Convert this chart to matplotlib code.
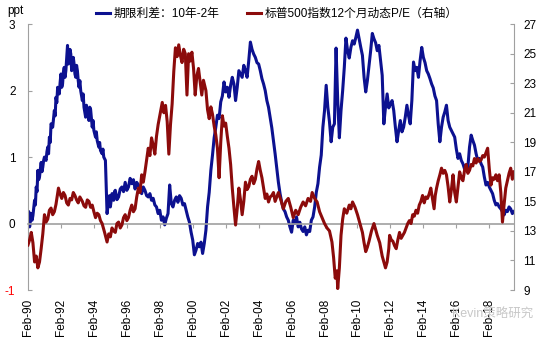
import matplotlib
matplotlib.use('Agg')
import matplotlib.pyplot as plt

plt.rcParams['font.family'] = ['Liberation Sans', 'Noto Sans CJK SC', 'DejaVu Sans']

# 10y-2y term spread, ppt (decimal year, value)
spread_pts = [
    (1990.1, 0.10), (1990.15, 0.18), (1990.2, -0.05), (1990.3, 0.15), (1990.35, 0.05),
    (1990.4, 0.12), (1990.5, 0.35), (1990.55, 0.28), (1990.6, 0.55), (1990.65, 0.48),
    (1990.7, 0.80), (1990.75, 0.66), (1990.8, 0.70), (1990.85, 0.82), (1990.9, 0.92),
    (1990.95, 0.78), (1991.0, 0.85), (1991.05, 0.95), (1991.1, 1.00), (1991.2, 0.95),
    (1991.25, 1.08), (1991.3, 1.15), (1991.35, 1.05), (1991.4, 1.30), (1991.45, 1.22),
    (1991.5, 1.50), (1991.6, 1.45), (1991.65, 1.58), (1991.7, 1.70), (1991.75, 1.62),
    (1991.8, 1.90), (1991.85, 1.82), (1991.9, 2.05), (1992.0, 1.95), (1992.05, 2.12),
    (1992.1, 2.25), (1992.15, 2.05), (1992.2, 2.10), (1992.25, 2.28), (1992.3, 2.35),
    (1992.35, 2.20), (1992.4, 2.30), (1992.45, 2.50), (1992.5, 2.68), (1992.55, 2.40),
    (1992.6, 2.45), (1992.65, 2.62), (1992.7, 2.55), (1992.75, 2.30), (1992.8, 2.35),
    (1992.85, 2.50), (1992.9, 2.40), (1992.95, 2.25), (1993.0, 2.20), (1993.05, 2.38),
    (1993.1, 2.30), (1993.15, 2.15), (1993.2, 2.05), (1993.25, 2.15), (1993.3, 2.00),
    (1993.4, 1.85), (1993.45, 1.95), (1993.5, 1.75), (1993.6, 1.60), (1993.65, 1.78),
    (1993.7, 1.70), (1993.8, 1.55), (1993.85, 1.75), (1993.9, 1.72), (1994.0, 1.45),
    (1994.05, 1.55), (1994.1, 1.40), (1994.2, 1.30), (1994.25, 1.38), (1994.3, 1.25),
    (1994.4, 1.15), (1994.45, 1.22), (1994.5, 1.10), (1994.6, 1.05), (1994.65, 1.12),
    (1994.7, 1.00), (1994.8, 0.95), (1994.9, 0.15), (1995.0, 0.35), (1995.05, 0.42),
    (1995.1, 0.25), (1995.2, 0.45), (1995.3, 0.35), (1995.35, 0.48), (1995.4, 0.50),
    (1995.5, 0.36), (1995.6, 0.40), (1995.7, 0.52), (1995.8, 0.55), (1995.9, 0.48),
    (1996.0, 0.62), (1996.1, 0.50), (1996.2, 0.55), (1996.3, 0.68), (1996.4, 0.60),
    (1996.5, 0.66), (1996.6, 0.52), (1996.7, 0.62), (1996.8, 0.58), (1996.9, 0.50),
    (1997.0, 0.45), (1997.1, 0.55), (1997.2, 0.50), (1997.3, 0.42), (1997.4, 0.40),
    (1997.5, 0.45), (1997.6, 0.35), (1997.7, 0.38), (1997.8, 0.28), (1997.9, 0.25),
    (1998.0, 0.15), (1998.1, 0.20), (1998.2, 0.05), (1998.3, 0.10), (1998.4, -0.02),
    (1998.5, 0.08), (1998.6, 0.15), (1998.7, 0.58), (1998.8, 0.30), (1998.9, 0.25),
    (1999.0, 0.35), (1999.1, 0.40), (1999.2, 0.32), (1999.3, 0.42), (1999.4, 0.38),
    (1999.5, 0.28), (1999.6, 0.30), (1999.7, 0.20), (1999.8, 0.10), (1999.9, 0.02),
    (2000.0, -0.13), (2000.1, -0.25), (2000.2, -0.47), (2000.3, -0.40), (2000.4, -0.30),
    (2000.5, -0.35), (2000.6, -0.28), (2000.7, -0.45), (2000.8, -0.30), (2000.9, -0.10),
    (2001.0, 0.25), (2001.1, 0.47), (2001.2, 0.80), (2001.3, 1.03), (2001.4, 1.29),
    (2001.5, 1.45), (2001.6, 1.63), (2001.7, 1.58), (2001.8, 1.83), (2001.9, 1.92),
    (2002.0, 2.13), (2002.1, 1.98), (2002.2, 2.05), (2002.3, 1.90), (2002.4, 2.08),
    (2002.5, 2.20), (2002.6, 2.10), (2002.7, 1.85), (2002.8, 2.05), (2002.9, 2.30),
    (2003.0, 2.25), (2003.1, 2.20), (2003.2, 2.38), (2003.3, 2.30), (2003.4, 2.20),
    (2003.5, 2.45), (2003.6, 2.73), (2003.7, 2.62), (2003.8, 2.55), (2003.9, 2.50),
    (2004.0, 2.42), (2004.1, 2.40), (2004.2, 2.30), (2004.3, 2.18), (2004.4, 2.10),
    (2004.5, 2.00), (2004.6, 1.85), (2004.7, 1.75), (2004.8, 1.60), (2004.9, 1.44),
    (2005.0, 1.25), (2005.1, 1.05), (2005.2, 0.83), (2005.3, 0.62), (2005.4, 0.45),
    (2005.5, 0.32), (2005.6, 0.22), (2005.7, 0.18), (2005.8, 0.10), (2005.9, 0.05),
    (2006.0, -0.05), (2006.1, -0.13), (2006.2, 0.05), (2006.3, 0.00), (2006.4, 0.10),
    (2006.5, -0.05), (2006.6, 0.02), (2006.7, -0.08), (2006.8, -0.12), (2006.9, -0.05),
    (2007.0, -0.17), (2007.1, -0.10), (2007.2, -0.12), (2007.3, 0.05), (2007.4, 0.10),
    (2007.5, 0.25), (2007.6, 0.47), (2007.7, 0.60), (2007.8, 0.85), (2007.9, 1.03),
    (2008.0, 1.45), (2008.1, 1.70), (2008.2, 2.08), (2008.3, 1.75), (2008.4, 1.53),
    (2008.5, 1.23), (2008.6, 1.45), (2008.7, 1.50), (2008.8, 2.64), (2008.9, 1.85),
    (2009.0, 1.29), (2009.1, 1.70), (2009.2, 2.00), (2009.3, 2.35), (2009.4, 2.79),
    (2009.5, 2.60), (2009.6, 2.49), (2009.7, 2.65), (2009.8, 2.75), (2009.9, 2.70),
    (2010.0, 2.80), (2010.1, 2.91), (2010.2, 2.78), (2010.3, 2.65), (2010.4, 2.53),
    (2010.5, 2.20), (2010.6, 1.98), (2010.7, 2.15), (2010.8, 2.38), (2010.9, 2.60),
    (2011.0, 2.86), (2011.1, 2.78), (2011.2, 2.72), (2011.3, 2.60), (2011.4, 2.68),
    (2011.5, 2.45), (2011.6, 2.23), (2011.7, 1.50), (2011.8, 1.75), (2011.9, 1.95),
    (2012.0, 1.74), (2012.1, 1.80), (2012.2, 1.85), (2012.3, 1.70), (2012.4, 1.45),
    (2012.5, 1.23), (2012.6, 1.40), (2012.7, 1.55), (2012.8, 1.38), (2012.9, 1.45),
    (2013.0, 1.60), (2013.1, 1.78), (2013.2, 1.62), (2013.3, 1.50), (2013.4, 1.85),
    (2013.5, 2.43), (2013.6, 2.30), (2013.7, 2.35), (2013.8, 2.20), (2013.9, 2.45),
    (2014.0, 2.65), (2014.1, 2.50), (2014.2, 2.42), (2014.3, 2.30), (2014.4, 2.25),
    (2014.5, 2.18), (2014.6, 2.10), (2014.7, 2.04), (2014.8, 1.92), (2014.9, 1.85),
    (2015.0, 1.50), (2015.1, 1.23), (2015.2, 1.45), (2015.3, 1.60), (2015.4, 1.68),
    (2015.5, 1.78), (2015.6, 1.55), (2015.7, 1.45), (2015.8, 1.40), (2015.9, 1.35),
    (2016.0, 1.30), (2016.1, 1.12), (2016.2, 0.98), (2016.3, 1.05), (2016.4, 0.95),
    (2016.5, 0.90), (2016.6, 0.82), (2016.7, 0.88), (2016.8, 0.85), (2016.9, 1.15),
    (2017.0, 1.33), (2017.1, 1.25), (2017.2, 1.18), (2017.3, 1.05), (2017.4, 0.95),
    (2017.5, 0.98), (2017.6, 0.90), (2017.7, 0.85), (2017.8, 0.70), (2017.9, 0.58),
    (2018.0, 0.62), (2018.1, 0.55), (2018.2, 0.50), (2018.3, 0.45), (2018.4, 0.35),
    (2018.5, 0.28), (2018.6, 0.30), (2018.7, 0.25), (2018.8, 0.22), (2018.9, 0.18),
    (2019.0, 0.13), (2019.1, 0.20), (2019.2, 0.18), (2019.3, 0.25), (2019.4, 0.22),
    (2019.5, 0.15), (2019.6, 0.18),
]

# S&P 500 12m forward P/E (right axis)
pe_pts = [
    (1990.1, 12.05), (1990.2, 12.4), (1990.3, 12.9), (1990.4, 12.2), (1990.5, 10.9),
    (1990.6, 11.3), (1990.7, 10.5), (1990.8, 10.9), (1990.9, 11.8), (1991.0, 12.8),
    (1991.1, 14.1), (1991.2, 13.6), (1991.3, 13.8), (1991.4, 14.4), (1991.5, 14.55),
    (1991.6, 14.1), (1991.7, 14.3), (1991.8, 14.8), (1991.95, 15.9), (1992.05, 15.5),
    (1992.15, 15.2), (1992.25, 15.6), (1992.35, 15.4), (1992.45, 14.9), (1992.55, 14.75),
    (1992.65, 15.2), (1992.75, 15.1), (1992.85, 15.6), (1992.95, 15.4), (1993.05, 15.1),
    (1993.15, 14.9), (1993.25, 15.3), (1993.4, 15.0), (1993.5, 14.7), (1993.6, 14.6),
    (1993.7, 15.1), (1993.8, 15.0), (1993.9, 14.6), (1994.0, 14.75), (1994.1, 14.3),
    (1994.2, 13.9), (1994.3, 14.2), (1994.4, 14.1), (1994.5, 13.7), (1994.6, 13.5),
    (1994.75, 12.9), (1994.9, 12.25), (1995.0, 12.8), (1995.1, 12.6), (1995.2, 13.2),
    (1995.3, 13.0), (1995.4, 12.9), (1995.5, 13.5), (1995.6, 13.6), (1995.7, 13.2),
    (1995.8, 13.4), (1995.9, 13.9), (1996.0, 14.1), (1996.1, 13.7), (1996.2, 13.9),
    (1996.3, 14.4), (1996.4, 14.75), (1996.5, 14.3), (1996.6, 14.5), (1996.7, 15.3),
    (1996.8, 15.9), (1996.9, 15.6), (1997.0, 16.8), (1997.1, 16.3), (1997.2, 17.0),
    (1997.3, 17.8), (1997.4, 18.6), (1997.5, 18.1), (1997.6, 19.3), (1997.7, 18.8),
    (1997.8, 18.2), (1997.9, 19.4), (1998.0, 20.2), (1998.1, 20.8), (1998.25, 21.7),
    (1998.35, 21.0), (1998.45, 21.5), (1998.55, 20.4), (1998.65, 18.2), (1998.75, 20.2),
    (1998.85, 21.6), (1998.95, 23.8), (1999.05, 25.4), (1999.15, 24.8), (1999.25, 25.6),
    (1999.35, 24.9), (1999.45, 24.4), (1999.55, 25.3), (1999.65, 25.0), (1999.75, 22.2),
    (1999.85, 25.0), (1999.95, 24.5), (2000.05, 25.1), (2000.15, 24.0), (2000.25, 22.2),
    (2000.35, 23.5), (2000.45, 24.0), (2000.55, 23.1), (2000.65, 22.2), (2000.75, 23.2),
    (2000.9, 22.5), (2001.0, 21.2), (2001.1, 20.6), (2001.2, 21.4), (2001.3, 20.9),
    (2001.4, 20.1), (2001.5, 19.5), (2001.6, 18.6), (2001.7, 16.6), (2001.8, 19.0),
    (2001.9, 20.8), (2002.0, 20.1), (2002.1, 20.3), (2002.2, 19.4), (2002.3, 18.6),
    (2002.4, 17.5), (2002.5, 15.9), (2002.6, 14.6), (2002.7, 13.4), (2002.8, 14.5),
    (2002.9, 15.9), (2003.0, 15.1), (2003.1, 14.1), (2003.2, 15.0), (2003.3, 16.3),
    (2003.4, 15.8), (2003.5, 16.0), (2003.6, 16.5), (2003.7, 16.7), (2003.8, 16.2),
    (2003.9, 16.5), (2004.0, 17.2), (2004.1, 17.7), (2004.2, 17.1), (2004.3, 16.6),
    (2004.4, 15.9), (2004.5, 15.2), (2004.6, 15.5), (2004.7, 14.96), (2004.8, 15.3),
    (2004.9, 15.4), (2005.0, 15.6), (2005.1, 15.0), (2005.2, 15.3), (2005.3, 15.6),
    (2005.45, 15.1), (2005.6, 14.5), (2005.75, 15.0), (2005.9, 15.2), (2006.05, 14.6),
    (2006.2, 13.9), (2006.35, 14.4), (2006.5, 14.1), (2006.65, 14.6), (2006.8, 14.96),
    (2006.95, 14.7), (2007.1, 15.2), (2007.25, 15.0), (2007.35, 15.6), (2007.5, 15.2),
    (2007.65, 14.96), (2007.8, 14.3), (2007.95, 13.9), (2008.1, 13.5), (2008.25, 13.2),
    (2008.4, 13.0), (2008.55, 12.25), (2008.65, 11.2), (2008.75, 9.8), (2008.85, 10.3),
    (2008.9, 9.1), (2009.0, 10.5), (2009.1, 12.7), (2009.2, 13.8), (2009.3, 14.5),
    (2009.45, 14.2), (2009.6, 14.75), (2009.7, 14.5), (2009.8, 14.96), (2009.95, 14.6),
    (2010.1, 14.1), (2010.25, 13.5), (2010.4, 12.9), (2010.5, 12.2), (2010.6, 11.6),
    (2010.7, 11.9), (2010.8, 12.3), (2010.95, 13.0), (2011.1, 13.5), (2011.2, 13.1),
    (2011.3, 12.7), (2011.45, 12.2), (2011.6, 11.3), (2011.7, 10.9), (2011.8, 10.5),
    (2011.9, 10.9), (2012.0, 11.8), (2012.05, 12.7), (2012.15, 12.4), (2012.25, 12.3),
    (2012.35, 12.0), (2012.45, 11.8), (2012.55, 12.4), (2012.65, 12.9), (2012.75, 12.5),
    (2012.85, 12.7), (2012.95, 12.9), (2013.05, 13.2), (2013.15, 13.5), (2013.25, 13.7),
    (2013.35, 13.5), (2013.45, 14.1), (2013.55, 14.0), (2013.65, 14.4), (2013.75, 14.2),
    (2013.85, 14.75), (2013.95, 15.0), (2014.05, 15.4), (2014.15, 14.9), (2014.25, 15.3),
    (2014.35, 15.2), (2014.45, 15.5), (2014.55, 15.9), (2014.65, 15.2), (2014.75, 14.5),
    (2014.82, 15.4), (2014.9, 15.9), (2015.0, 16.4), (2015.1, 16.8), (2015.2, 17.25),
    (2015.3, 16.9), (2015.4, 17.1), (2015.5, 16.8), (2015.6, 16.0), (2015.7, 14.96),
    (2015.8, 15.8), (2015.9, 16.8), (2016.0, 15.6), (2016.1, 14.96), (2016.2, 16.0),
    (2016.3, 17.0), (2016.4, 16.6), (2016.5, 16.4), (2016.6, 17.1), (2016.7, 17.5),
    (2016.8, 16.9), (2016.9, 17.1), (2017.0, 17.5), (2017.1, 17.4), (2017.2, 17.9),
    (2017.3, 17.6), (2017.4, 17.9), (2017.5, 17.7), (2017.6, 17.8), (2017.7, 18.1),
    (2017.8, 18.0), (2017.9, 18.3), (2018.0, 18.6), (2018.1, 17.2), (2018.2, 16.1),
    (2018.3, 16.6), (2018.4, 16.5), (2018.5, 16.8), (2018.6, 16.4), (2018.7, 16.8),
    (2018.8, 15.6), (2018.9, 13.6), (2019.0, 14.8), (2019.1, 15.9), (2019.2, 16.4),
    (2019.3, 16.9), (2019.4, 17.25), (2019.5, 16.5), (2019.6, 17.0),
]

tick_years = [1990.1 + 2 * i for i in range(15)]
tick_labels = ['Feb-%02d' % ((1990 + 2 * i) % 100) for i in range(15)]
left_ticks = [-1, 0, 1, 2, 3]
right_ticks = [9, 11, 13, 15, 17, 19, 21, 23, 25, 27]

blue = '#0c1190'
red = '#8c0b0b'
gray = '#a0a0a0'

fig = plt.figure(figsize=(5.54, 3.40), dpi=100)
ax = fig.add_axes([0.0505, 0.147, 0.8773, 0.782])
ax2 = ax.twinx()

t1, v1 = zip(*spread_pts)
t2, v2 = zip(*pe_pts)
l1, = ax.plot(t1, v1, color=blue, lw=2.2)
l2, = ax2.plot(t2, v2, color=red, lw=2.2)

ax.set_xlim(1990.1, 2019.6)
ax.set_ylim(-1, 3)
ax2.set_ylim(9, 27)

# x axis sits on the zero line, labels pushed down to the bottom
ax.spines['bottom'].set_position(('data', 0))
ax.spines['bottom'].set_color(gray)
ax.spines['bottom'].set_linewidth(1.2)
ax.set_xticks(tick_years)
ax.set_xticklabels(tick_labels, rotation=90, fontsize=8.5)
ax.tick_params(axis='x', direction='out', length=3, color=gray, pad=51)

ax.set_yticks(left_ticks)
ax.set_yticklabels([str(v) for v in left_ticks], fontsize=8.5)
ax.get_yticklabels()[0].set_color('red')
ax.tick_params(axis='y', direction='in', length=3, color=gray, pad=9)

ax2.set_yticks(right_ticks)
ax2.set_yticklabels([str(v) for v in right_ticks], fontsize=8.5)
ax2.tick_params(axis='y', direction='in', length=3, color=gray, pad=6.5)

for a in (ax, ax2):
    a.spines['top'].set_visible(False)
ax.spines['right'].set_visible(False)
ax.spines['left'].set_color(gray)
ax2.spines['left'].set_visible(False)
ax2.spines['bottom'].set_visible(False)
ax2.spines['right'].set_color(gray)

fig.text(0.013, 0.968, 'ppt', fontsize=8.5, va='center')

fig.legend([l1, l2], ['期限利差：10年-2年', '标普500指数12个月动态P/E（右轴）'],
           loc='center', bbox_to_anchor=(0.5, 0.958), ncol=2, frameon=False,
           fontsize=8.5, handlelength=1.2, handletextpad=0.3, columnspacing=2.3)

# watermark (sits over the last tick labels, as in the source)
fig.text(0.815, 0.075, 'Kevin策略研究', fontsize=9, color='#c8c8c8', va='center',
         zorder=0)

fig.savefig('out.png', dpi=100)
